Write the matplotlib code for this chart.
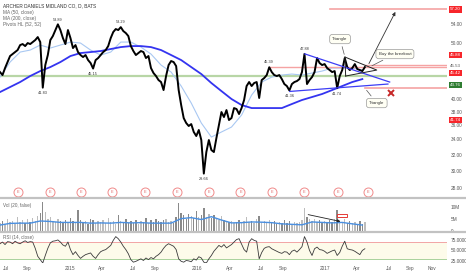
import matplotlib
matplotlib.use("Agg")
import matplotlib.pyplot as plt
import matplotlib.dates as mdates
import matplotlib.transforms as mtransforms
from matplotlib.lines import Line2D
from matplotlib.patches import Rectangle
from matplotlib.ticker import NullLocator
import pandas as pd

plt.rcParams["font.family"] = ["Liberation Sans", "DejaVu Sans"]

# weekly samples (ADM, Jun 2014 - Apr 2017)
weeks = pd.date_range("2014-06-15", "2017-04-24", periods=146)
closes = [44.52, 43.99, 45.24, 46.34, 47.47, 47.85, 48.23, 48.62, 49.60, 49.80,
          49.40, 50.00, 49.80, 50.20, 50.60, 51.21, 50.20, 41.83, 45.79, 47.66,
          50.60, 51.42, 52.67, 53.89, 52.67, 51.01, 49.80, 52.67, 51.01, 49.01,
          49.60, 48.23, 47.66, 47.28, 47.66, 46.71, 46.16, 45.15, 46.71, 47.09,
          47.66, 48.23, 48.62, 49.40, 51.01, 52.25, 52.88, 52.67, 53.29, 52.46,
          52.04, 51.42, 49.40, 48.43, 47.66, 48.04, 48.43, 48.23, 47.09, 47.47,
          45.24, 44.35, 43.82, 43.12, 42.78, 41.43, 43.82, 45.79, 46.53, 46.34,
          45.60, 41.43, 39.02, 37.04, 36.31, 35.88, 36.16, 35.03, 34.47, 35.31,
          33.92, 29.66, 32.33, 33.92, 32.59, 32.33, 34.19, 36.02, 37.94, 37.19,
          38.24, 36.75, 37.04, 38.55, 38.40, 37.64, 38.55, 39.81, 42.10, 42.78,
          42.10, 42.61, 42.78, 40.13, 43.12, 43.47, 43.99, 45.39, 44.52, 43.99,
          43.82, 43.99, 43.29, 42.44, 42.10, 41.36, 42.44, 42.78, 42.95, 43.29,
          44.52, 47.88, 42.44, 43.12, 43.64, 44.52, 47.09, 46.16, 45.79, 45.97,
          45.24, 44.88, 44.52, 44.70, 41.74, 43.82, 44.88, 47.09, 45.42, 44.88,
          45.24, 45.97, 45.06, 44.88, 44.70, 45.42]
volumes = [3.5, 4.2, 2.8, 5.0, 3.6, 4.4, 3.1, 5.8, 3.9, 4.6,
           3.3, 4.9, 3.7, 5.5, 4.1, 6.2, 7.5, 12.0, 8.1, 5.2,
           6.0, 4.3, 3.8, 5.1, 4.4, 3.2, 4.7, 3.9, 5.6, 4.0,
           3.5, 8.6, 4.8, 3.6, 4.2, 3.1, 5.0, 4.5, 3.4, 4.1,
           3.7, 4.6, 3.2, 5.3, 3.8, 4.4, 3.0, 6.8, 4.2, 3.6,
           4.9, 3.3, 4.0, 3.5, 4.8, 3.1, 4.3, 3.7, 5.5, 3.4,
           4.6, 3.9, 5.2, 4.1, 3.6, 4.7, 5.0, 3.8, 4.4, 3.5,
           5.8, 11.6, 7.4, 6.5, 5.1, 7.0, 6.2, 5.4, 8.3, 5.9,
           6.6, 9.8, 6.0, 7.2, 5.3, 6.9, 5.6, 4.8, 6.1, 4.5,
           4.0, 3.6, 4.3, 3.2, 3.9, 4.6, 3.4, 4.1, 5.7, 3.8,
           4.4, 3.5, 4.9, 6.3, 3.7, 4.2, 3.3, 4.8, 3.6, 4.0,
           3.1, 3.8, 3.4, 4.5, 3.2, 4.1, 3.0, 3.6, 3.3, 3.9,
           4.7, 9.5, 5.8, 4.9, 4.3, 5.2, 3.8, 4.6, 3.5, 4.4,
           3.6, 4.8, 3.9, 5.1, 8.7, 4.2, 3.7, 4.9, 3.4, 4.0,
           3.3, 3.9, 3.1, 4.4, 3.0, 3.6]
rsi = [66, 70, 64, 71, 70, 66, 72, 68, 66, 70,
       73, 69, 71, 70, 55, 36, 28, 20, 38, 55,
       68, 72, 73, 75, 70, 63, 60, 70, 52, 40,
       47, 38, 31, 36, 40, 42, 44, 36, 31, 40,
       47, 50, 52, 57, 62, 74, 83, 78, 70, 60,
       52, 42, 28, 22, 24, 27, 30, 26, 32, 28,
       33, 30, 36, 40, 46, 55, 62, 66, 63, 60,
       52, 30, 24, 22, 26, 25, 23, 30, 27, 35,
       32, 22, 20, 30, 38, 48, 55, 62, 58, 64,
       56, 60, 64, 70, 76, 78, 65, 52, 46, 70,
       78, 74, 72, 30, 45, 55, 58, 59, 54, 51,
       48, 45, 43, 47, 46, 40, 48, 51, 46, 52,
       59, 83, 70, 50, 38, 54, 58, 52, 51, 48,
       43, 46, 49, 51, 38, 45, 60, 72, 54, 52,
       51, 48, 44, 40, 50, 54]

# moving averages, read every 4th week
ma_weeks = weeks[::4]
ma50 = [43.64, 46.34, 48.23, 48.62, 49.60, 49.01, 49.60, 50.20, 50.00, 48.62,
        47.66, 48.23, 50.20, 50.20, 49.20, 47.85, 45.79, 44.52, 42.10, 39.33,
        36.31, 34.33, 35.03, 35.73, 37.49, 40.61, 42.78, 43.64, 43.99, 44.17,
        43.99, 44.35, 44.70, 45.24, 45.24, 45.24, 44.88]
ma200 = [41.10, 41.93, 42.78, 43.82, 44.70, 45.42, 46.34, 47.47, 48.04, 48.23,
         48.43, 48.82, 49.20, 49.40, 49.40, 49.20, 48.62, 47.66, 46.71, 45.42,
         44.17, 42.61, 41.26, 39.97, 39.02, 38.55, 38.55, 38.55, 38.55, 39.18,
         39.81, 40.29, 40.78, 41.43, 42.10, 42.78, 43.29]
vol_ma = [2.5, 3.2, 3.3, 3.3, 4.2, 4.0, 3.6, 3.6, 3.6, 3.3,
          3.4, 3.3, 3.6, 3.4, 3.5, 3.3, 3.3, 3.3, 5.2, 5.6,
          4.8, 6.0, 4.6, 3.4, 3.5, 3.8, 3.7, 3.5, 3.0, 2.8,
          2.6, 3.8, 3.6, 3.4, 3.6, 3.0, 2.5]

pivot_highs = [23, 48, 107, 121]
pivot_lows = [17, 37, 81, 115, 134]

earnings = ["2014-08-05", "2014-11-05", "2015-02-03", "2015-05-01", "2015-08-04",
            "2015-11-03", "2016-02-02", "2016-05-03", "2016-08-02", "2016-11-01",
            "2017-02-07", "2017-05-02"]

date_ticks = ["2014-07-01", "2014-09-01", "2015-01-01", "2015-04-01", "2015-07-01",
              "2015-09-01", "2016-01-01", "2016-04-01", "2016-07-01", "2016-09-01",
              "2017-01-01", "2017-04-01", "2017-07-01", "2017-09-01", "2017-11-01"]
date_labels = ["Jul", "Sep", "2015", "Apr", "Jul", "Sep", "2016", "Apr", "Jul",
               "Sep", "2017", "Apr", "Jul", "Sep", "Nov"]
price_ticks = [28, 30, 32, 34, 36, 38, 40, 50, 54]

# drawings (dates, prices)
support_level = 43.76
target = ("2017-01-15", 57.20)
resistances = [("2016-07-26", 45.39), ("2017-04-24", 45.88)]
stop = ("2017-04-24", 41.74)
big_tri_upper = (["2016-11-03", "2017-07-04"], [47.88, 42.78])
big_tri_lower = (["2016-09-21", "2017-06-29"], [41.20, 42.44])
small_tri = (["2017-02-26", "2017-05-28", "2017-02-28"], [47.28, 44.88, 43.82])
breakout_arrow = (("2017-05-02", 45.60), ("2017-07-24", 57.20))
stop_mark = ("2017-07-07", 40.94)
notes = [("Triangle", ("2017-02-12", 50.81), ("2017-02-26", 47.28)),
         ("Buy the breakout", ("2017-07-19", 47.85), ("2017-05-07", 45.42)),
         ("Triangle", ("2017-05-28", 39.33), ("2017-04-24", 41.76))]
vol_arrow = (("2016-11-05", 7.1), ("2017-02-21", 3.75))
vol_box = ("2017-02-04", "2017-03-03", 5.8, 7.1)

# right axis price tags: (text, price position, colour)
tags = [("57.20", 57.20, "#f7262b"), ("45.88", 47.66, "#f7262b"),
        ("45.53", 45.60, None), ("45.42", 44.35, "#f7262b"),
        ("43.76", 42.27, "#2f7d32"), ("41.74", 36.75, "#f7262b")]


def d(s):
    return mdates.date2num(pd.Timestamp(s))


xw = mdates.date2num(weeks)
xm = mdates.date2num(ma_weeks)
x_end = d("2017-12-15")

W, H = 466, 275


def panel(top, bottom):
    return [0, 1 - bottom / H, 447 / W, (bottom - top) / H]


fig = plt.figure(figsize=(W / 100, H / 100), dpi=100)
ax = fig.add_axes(panel(0, 198))
axv = fig.add_axes(panel(198, 232), sharex=ax)
axr = fig.add_axes(panel(232, 263), sharex=ax)

for a in (ax, axv, axr):
    for s in a.spines.values():
        s.set_visible(False)
    a.yaxis.tick_right()
    a.tick_params(length=0, labelsize=3.4, colors="#555555", pad=2.5)
    a.set_facecolor("white")

# ---- price panel
ax.set_yscale("log")
ax.axhline(support_level, color="#b8d6a6", lw=1.6, zorder=1)
ax.plot(xm, ma50, color="#a9c8f2", lw=0.8, zorder=2)
ax.plot(xm, ma200, color="#3434f0", lw=1.3, zorder=2)
ax.plot(xw, closes, color="black", lw=1.4, zorder=3)

ax.plot([d(target[0]), x_end], [target[1]] * 2, color="#f5a3a3", lw=1.2)
for start, lvl in resistances:
    ax.plot([d(start), x_end], [lvl, lvl], color="#f5a3a3", lw=1.0)
ax.plot([d(stop[0]), x_end], [stop[1]] * 2, color="#f5a3a3", lw=1.2)

for xs, ys in (big_tri_upper, big_tri_lower):
    ax.plot([d(s) for s in xs], ys, color="#3d3df5", lw=0.9, zorder=4)
tx = [d(s) for s in small_tri[0]]
ax.plot([tx[0], tx[1], tx[2]], small_tri[1], color="#222222", lw=0.7, zorder=4)
ax.plot([tx[0], tx[2]], [small_tri[1][0], small_tri[1][2]], color="#222222", lw=0.7, zorder=4)

(a0, p0), (a1, p1) = breakout_arrow
ax.annotate("", xy=(d(a1), p1), xytext=(d(a0), p0),
            arrowprops=dict(arrowstyle="-|>", color="#333333", lw=0.6, mutation_scale=5))
ax.plot(d(stop_mark[0]), stop_mark[1], marker="x", color="#c62828", ms=4, mew=1.4)

for text, (bx, bp), (tx_, tp) in notes:
    ax.annotate(text, xy=(d(tx_), tp), xytext=(d(bx), bp), fontsize=3.2, color="#333333",
                ha="center", va="center",
                bbox=dict(boxstyle="round,pad=0.6", fc="#fffff4", ec="#9a9a9a", lw=0.5),
                arrowprops=dict(arrowstyle="-", color="#555555", lw=0.5))

for i in pivot_highs:
    ax.annotate(f"{closes[i]:.2f}", (xw[i], closes[i]), xytext=(0, 2),
                textcoords="offset points", ha="center", va="bottom",
                fontsize=2.8, color="#333333")
for i in pivot_lows:
    ax.annotate(f"{closes[i]:.2f}", (xw[i], closes[i]), xytext=(0, -2.5),
                textcoords="offset points", ha="center", va="top",
                fontsize=2.8, color="#333333")

etrans = mtransforms.blended_transform_factory(ax.transData, ax.transAxes)
ex = [d(s) for s in earnings]
ax.scatter(ex, [0.028] * len(ex), s=42, facecolor="white", edgecolor="#f08a8a",
           lw=0.7, transform=etrans, zorder=5, clip_on=False)
for e in ex:
    ax.text(e, 0.028, "E", transform=etrans, fontsize=2.8, color="#e06666",
            ha="center", va="center", zorder=6)

ax.set_ylim(26.9, 59.4)
ax.set_yticks(price_ticks, labels=[f"{t:.2f}" for t in price_ticks])
ax.yaxis.set_minor_locator(NullLocator())

ttrans = mtransforms.blended_transform_factory(ax.transAxes, ax.transData)
for text, pos, col in tags:
    if col:
        ax.text(1.006, pos, text, transform=ttrans, fontsize=3.2, color="white",
                va="center", ha="left", clip_on=False,
                bbox=dict(boxstyle="square,pad=0.25", fc=col, ec="none"))
    else:
        ax.text(1.006, pos, text, transform=ttrans, fontsize=3.2, color="#555555",
                va="center", ha="left", clip_on=False)

legend = ["ARCHER DANIELS MIDLAND CO, D, BATS", "MA (50, close)",
          "MA (200, close)", "Pivots HL (52, 52)"]
for k, line in enumerate(legend):
    ax.text(3 / 447, 1 - (6 + 6.3 * k) / 198, line, transform=ax.transAxes,
            fontsize=3.4, color="#333333" if k == 0 else "#666666", va="center")

# ---- volume panel
vol_colors = ["#bdbdbd" if k == 0 or closes[k] >= closes[k - 1] else "#8a8a8a"
              for k in range(len(closes))]
axv.bar(xw, volumes, width=4.0, color=vol_colors, lw=0)
axv.plot(xm, vol_ma, color="#4a8fe0", lw=1.0)
(v0, q0), (v1, q1) = vol_arrow
axv.annotate("", xy=(d(v1), q1), xytext=(d(v0), q0),
             arrowprops=dict(arrowstyle="-|>", color="#222222", lw=0.6, mutation_scale=4))
axv.add_patch(Rectangle((d(vol_box[0]), vol_box[2]), d(vol_box[1]) - d(vol_box[0]),
                        vol_box[3] - vol_box[2], fill=False, ec="#e53935", lw=0.7))
axv.set_ylim(-0.4, 13.8)
axv.set_yticks([0, 5, 10], labels=["0", "5M", "10M"])
axv.text(3 / 447, 1 - 7 / 34, "Vol (20, false)", transform=axv.transAxes,
         fontsize=3.3, color="#666666", va="center")

# ---- RSI panel
axr.axhspan(30, 70, color="#fdfbea", lw=0)
axr.axhline(70, color="#f2a5a5", lw=0.7)
axr.axhline(30, color="#a9d29b", lw=0.7)
axr.plot(xw, rsi, color="#3a3a3a", lw=0.6)
axr.set_ylim(20, 94)
axr.set_yticks([25, 50, 75], labels=["25.0000", "50.0000", "75.0000"])
axr.text(3 / 447, 1 - 6 / 31, "RSI (14, close)", transform=axr.transAxes,
         fontsize=3.3, color="#666666", va="center")

axr.set_xticks([d(s) for s in date_ticks], labels=date_labels)
axr.set_xlim(d("2014-06-15"), x_end)
ax.tick_params(labelbottom=False)
axv.tick_params(labelbottom=False)

for ypx in (198, 232):
    fig.add_artist(Line2D([0, 1], [1 - ypx / H] * 2, transform=fig.transFigure,
                          color="#c2c2c2", lw=1.6))

fig.savefig("out.png", dpi=100)
